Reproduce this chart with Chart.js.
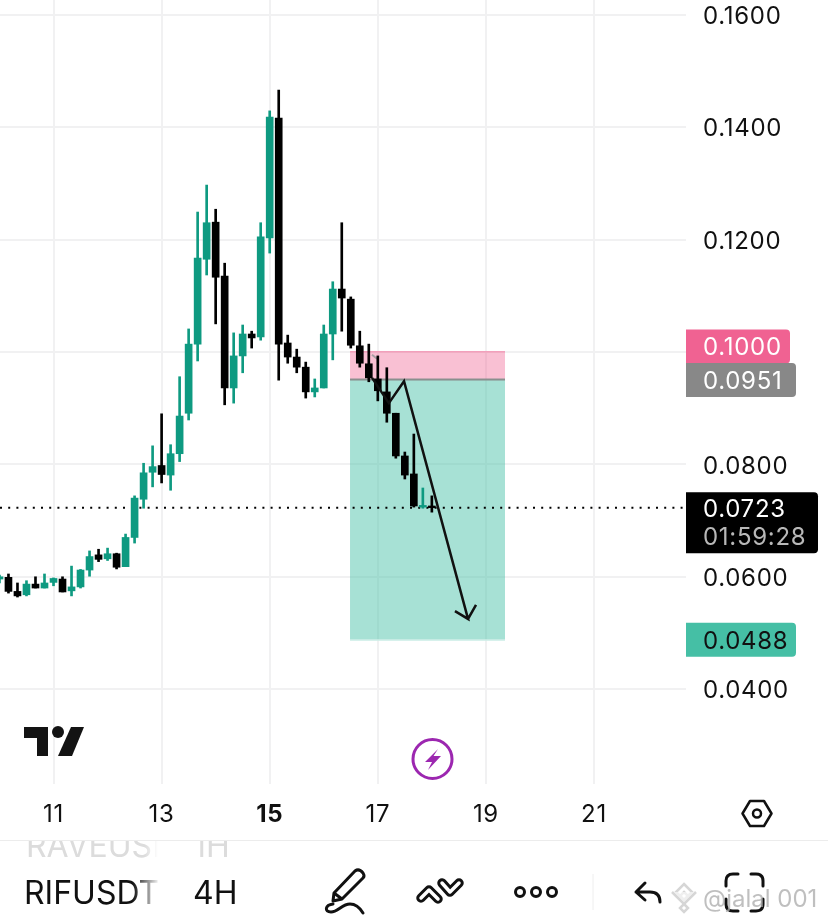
<!DOCTYPE html>
<html><head><meta charset="utf-8">
<style>
html,body{margin:0;padding:0;background:#fff;width:828px;height:923px;overflow:hidden}
#wrap{position:relative;width:828px;height:923px;font-family:Inter,"Noto Sans",sans-serif}
canvas{position:absolute;left:0;top:0}
svg{position:absolute;left:0;top:0}
.t{position:absolute;white-space:nowrap;line-height:1}
.fade{overflow:hidden;-webkit-mask-image:linear-gradient(90deg,#000 80%,transparent 100%);mask-image:linear-gradient(90deg,#000 80%,transparent 100%)}
.fade2{overflow:hidden;-webkit-mask-image:linear-gradient(90deg,#000 90%,transparent 100%);mask-image:linear-gradient(90deg,#000 90%,transparent 100%)}
</style></head><body>
<div id="wrap">
<canvas id="c" width="828" height="923" style="width:828px;height:923px"></canvas>
<div style="position:absolute;left:0;top:841px;width:828px;height:20px;overflow:hidden">
  <div class="t fade2" style="left:26px;top:-11px;width:132px;font-size:32px;color:#dcdcdc">RAVEUSDT</div>
  <div class="t" style="left:193px;top:-11px;font-size:32px;color:#dcdcdc">1H</div>
</div>
<div class="t fade" style="left:24px;top:877px;width:136px;font-size:32px;color:#111">RIFUSDT</div>
<div class="t" style="left:193px;top:877px;font-size:32px;color:#111">4H</div>
<svg width="828" height="923" viewBox="0 0 828 923" fill="none">
  <line x1="0" y1="840.5" x2="828" y2="840.5" stroke="#ececec" stroke-width="1"/>
  <line x1="593" y1="874" x2="593" y2="910" stroke="#eee" stroke-width="1"/>
  <path d="M24 727H48V756H37V738H24Z" fill="#131313"/><circle cx="58" cy="732" r="6" fill="#131313"/><path d="M71 727H84L72 756H58Z" fill="#131313"/>
  <circle cx="432.5" cy="759" r="19.5" stroke="#9c27b0" stroke-width="3" fill="#fff"/>
  <path d="M438 749L425 762H432L428 770L441 756H433.500Z" fill="#9c27b0"/>
  <path d="M742.500 813.500L750 801H764L771.500 813.500L764 826H750Z" stroke="#111" stroke-width="2.500" stroke-linejoin="round"/>
  <circle cx="757" cy="813.500" r="4" stroke="#111" stroke-width="2.500"/>
  <path d="M355 871Q359 868 363 873Q365 876 363 878L342 899L333 901L334 893Z" stroke="#111" stroke-width="3" stroke-linejoin="round"/>
  <path d="M334 893L342 899" stroke="#111" stroke-width="3"/>
  <path d="M333 904C325 905 324 912 331 912C338 912 342 904 350 904C356 904 360 908 363 913" stroke="#111" stroke-width="3" stroke-linecap="round"/>
  <g stroke-linecap="round" stroke-linejoin="round">
    <path d="M421 898L429 890L438 899" stroke="#111" stroke-width="9.500"/>
    <path d="M442 883L450 892L459 883" stroke="#111" stroke-width="9.500"/>
    <path d="M421 898L429 890L438 899" stroke="#fff" stroke-width="3.500"/>
    <path d="M442 883L450 892L459 883" stroke="#fff" stroke-width="3.500"/>
  </g>
  <circle cx="520" cy="892" r="4.500" stroke="#111" stroke-width="3"/>
  <circle cx="536" cy="892" r="4.500" stroke="#111" stroke-width="3"/>
  <circle cx="552" cy="892" r="4.500" stroke="#111" stroke-width="3"/>
  <path d="M645 883L636 892L645 900M636 892H650Q660 892 660 902" stroke="#111" stroke-width="3" stroke-linecap="round" stroke-linejoin="round"/>
  <g stroke="#111" stroke-width="3" stroke-linecap="round">
    <path d="M726 886V881Q726 874 733 874H738"/>
    <path d="M751 874H756Q763 874 763 881V886"/>
    <path d="M726 899V904Q726 911 733 911H738"/>
    <path d="M751 911H756Q763 911 763 904V899"/>
  </g>
  <g stroke="#d6d6d6" stroke-width="2.500" fill="rgba(255,255,255,.6)">
    <path d="M684 884L692 892L684 900L676 892Z"/>
    <path d="M684 892L688 896L684 900L680 896Z"/>
    <path d="M672 892L676 896L684 904L692 896L696 892"/>
    <path d="M684 904L688 908L684 912L680 908Z"/>
  </g>
</svg>
<div class="t" style="left:703px;top:887px;font-size:24px;color:rgba(170,170,170,.75)">@jalal 001</div>
</div>
<script src="https://cdn.jsdelivr.net/npm/chart.js@4"></script>
<script>
// Hours since day 10, 00:00 (4H candles)
const candleHours=[0,4,8,12,16,20,24,28,32,36,40,44,48,52,56,60,64,68,72,76,80,84,88,92,96,100,104,108,112,116,120,124,128,132,136,140,144,148,152,156,160,164,168,172,176,180,184,188,192];
const opens =[.0596,.0599,.0574,.0568,.0587,.0580,.0590,.0596,.0575,.0582,.0612,.0639,.0632,.0641,.0618,.0670,.0738,.0786,.0798,.0781,.0819,.0891,.1014,.1165,.1231,.1135,.0936,.0993,.1032,.1027,.1203,.1416,.1016,.0991,.0973,.0929,.0936,.1032,.1112,.1094,.1011,.0979,.0952,.0929,.0891,.0815,.0783,.0724,.0726];
const highs =[.0603,.0605,.0589,.0593,.0600,.0605,.0598,.0600,.0619,.0613,.0646,.0649,.0651,.0642,.0676,.0744,.0802,.0833,.0890,.0835,.0956,.1041,.1249,.1297,.1254,.1158,.1034,.1048,.1037,.1230,.1429,.1466,.1030,.1005,.0982,.0952,.1048,.1125,.1230,.1098,.1037,.1014,.0993,.0972,.0891,.0822,.0854,.0758,.0744];
const lows  =[.0589,.0571,.0564,.0566,.0580,.0580,.0584,.0573,.0566,.0580,.0601,.0627,.0629,.0614,.0618,.0660,.0722,.0760,.0767,.0754,.0805,.0879,.0984,.1137,.1050,.0906,.0909,.0963,.1007,.1021,.1176,.0950,.0980,.0963,.0918,.0920,.0936,.0986,.1037,.1007,.0973,.0947,.0913,.0875,.0811,.0774,.0724,.0722,.0715];
const closes=[.0600,.0574,.0566,.0587,.0580,.0589,.0597,.0573,.0582,.0612,.0636,.0631,.0641,.0617,.0670,.0740,.0785,.0796,.0782,.0819,.0886,.1014,.1167,.1230,.1133,.0936,.0993,.1032,.1025,.1205,.1418,.1014,.0991,.0973,.0929,.0936,.1032,.1112,.1096,.1012,.0980,.0954,.0931,.0891,.0815,.0781,.0726,.0727,.0723];
const dayTicks=[11,13,15,17,19,21];
const boldDay=15;
const priceTicks=[.04,.06,.08,.10,.12,.14,.16];
const lastPrice=.0723, countdown="01:59:28";
const stopPrice=.1000, entryPrice=.0951, targetPrice=.0488;
const boxStartDay=16.486, boxEndDay=19.353;
const drawingDays  =[16.893,17.205,17.485,18.669,18.428,18.669,18.817];
const drawingPrices=[.0954,.0909,.0948,.0525,.0539,.0525,.0550];
const fadedDays  =[16.893,16.985];
const fadedPrices=[.0995,.0988];
const xMin=10.010,xMax=22.702,yMin=.02313,yMax=.16263;
const GREEN='#0E9A81',BLACK='#000000',FONT='Inter,"Noto Sans",sans-serif';

const dayOf=h=>10+h/24;
const col=candleHours.map((h,i)=>closes[i]>=opens[i]?GREEN:BLACK);

const positionPlugin={id:'position',
  beforeDraw(ch){ch.ctx.letterSpacing='.7px';},
  beforeDatasetsDraw(ch){
    const {ctx,scales:{x,y}}=ch;
    const l=x.getPixelForValue(boxStartDay),r=x.getPixelForValue(boxEndDay);
    const t=y.getPixelForValue(stopPrice),m=y.getPixelForValue(entryPrice),b=y.getPixelForValue(targetPrice);
    ctx.save();
    ctx.fillStyle='rgba(240,98,146,.4)';ctx.fillRect(l,t,r-l,m-t);
    ctx.fillStyle='rgba(68,191,165,.47)';ctx.fillRect(l,m,r-l,b-m);
    ctx.fillStyle='#f2a0bb';ctx.fillRect(l,t-1,r-l,1.5);
    ctx.fillStyle='#8a8f8e';ctx.fillRect(l,m-1,r-l,2);
    ctx.fillStyle='#c9ece5';ctx.fillRect(l,b-.5,r-l,1.5);
    ctx.restore();
  },
  afterDraw(ch){
    const {ctx,scales:{y},chartArea:{right:L}}=ch;
    const box=(top,h,w,c)=>{ctx.fillStyle=c;ctx.beginPath();ctx.roundRect(L,top,w,h,[0,4,4,0]);ctx.fill();};
    ctx.save();
    ctx.textBaseline='middle';ctx.textAlign='left';ctx.font='24px '+FONT;
    const tx=L+17;
    box(y.getPixelForValue(stopPrice)-22.5,34,104,'#F06292');
    ctx.fillStyle='#fff';ctx.fillText(stopPrice.toFixed(4),tx,y.getPixelForValue(stopPrice)-4);
    box(y.getPixelForValue(entryPrice)-16.5,34,110,'#888888');
    ctx.fillStyle='#fff';ctx.fillText(entryPrice.toFixed(4),tx,y.getPixelForValue(entryPrice)+2);
    const ly=y.getPixelForValue(lastPrice);
    box(ly-15.5,61,132,'#000');
    ctx.fillStyle='#fff';ctx.fillText(lastPrice.toFixed(4),tx,ly+2.5);
    ctx.fillStyle='#b8b8b8';ctx.fillText(countdown,tx,ly+30.5);
    box(y.getPixelForValue(targetPrice)-17,34,110,'#45BFA5');
    ctx.fillStyle='#111';ctx.fillText(targetPrice.toFixed(4),tx,y.getPixelForValue(targetPrice)+2);
    ctx.restore();
  }
};

new Chart(document.getElementById('c'),{
  type:'bar',
  data:{datasets:[
    {type:'line',label:'drawing',order:0,data:drawingDays.map((d,i)=>({x:d,y:drawingPrices[i]})),borderColor:'#111',borderWidth:2.5,pointRadius:0,tension:0,fill:false},
    {label:'body',order:1,grouped:false,barThickness:7,data:candleHours.map((h,i)=>({x:dayOf(h),y:[opens[i],closes[i]]})),backgroundColor:col,minBarLength:1.5},
    {label:'wick',order:2,grouped:false,barThickness:2,data:candleHours.map((h,i)=>({x:dayOf(h),y:[lows[i],highs[i]]})),backgroundColor:col},
    {type:'line',label:'faded',order:3,data:fadedDays.map((d,i)=>({x:d,y:fadedPrices[i]})),borderColor:'#a8a0a4',borderWidth:2,pointRadius:0,fill:false},
    {type:'line',label:'last',order:4,data:[{x:xMin,y:lastPrice},{x:xMax,y:lastPrice}],borderColor:'#000',borderWidth:2,borderDash:[2,6.2],borderCapStyle:'butt',pointRadius:0,fill:false}
  ]},
  plugins:[positionPlugin],
  options:{
    responsive:false,animation:false,devicePixelRatio:1,
    layout:{padding:0},
    plugins:{legend:{display:false},tooltip:{enabled:false},title:{display:false}},
    scales:{
      x:{type:'linear',offset:false,min:xMin,max:xMax,
        afterBuildTicks:s=>{s.ticks=dayTicks.map(v=>({value:v}));},
        afterFit:s=>{s.height=139;s.paddingLeft=0;s.paddingRight=0;},
        grid:{offset:false,color:'#f1f1f2',lineWidth:2,drawTicks:false},border:{display:false},
        ticks:{autoSkip:false,maxRotation:0,padding:16,color:'#111',
          font:c=>({family:FONT,size:24,weight:c.tick&&c.tick.value===boldDay?'700':'400'}),
          callback:v=>String(v)}},
      y:{type:'linear',position:'right',min:yMin,max:yMax,
        afterBuildTicks:s=>{s.ticks=priceTicks.map(v=>({value:v}));},
        afterFit:s=>{s.width=142;s.paddingTop=0;s.paddingBottom=0;},
        grid:{color:'#f1f1f2',lineWidth:2,drawTicks:false},border:{display:false},
        ticks:{padding:17,labelOffset:2,color:'#111',font:{family:FONT,size:24},callback:v=>Number(v).toFixed(4)}}
    }
  }
});
</script>
</body></html>
